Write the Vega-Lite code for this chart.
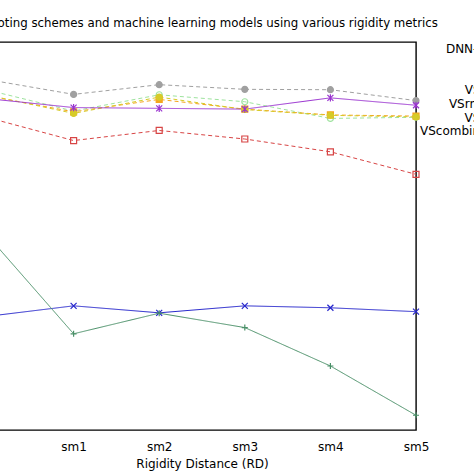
{
  "$schema": "https://vega.github.io/schema/vega-lite/v6.json",
  "width": 428,
  "height": 388,
  "autosize": {"type": "none"},
  "padding": {"left": -12, "top": 42, "right": 58, "bottom": 44},
  "title": {
    "text": "Comparison of voting schemes and machine learning models using various rigidity metrics",
    "anchor": "end",
    "frame": "group",
    "dx": 22,
    "offset": 12,
    "fontSize": 11.8,
    "fontWeight": "normal",
    "font": "DejaVu Sans",
    "color": "black"
  },
  "config": {
    "view": {"stroke": "black", "strokeWidth": 1.4},
    "font": "DejaVu Sans"
  },
  "data": {
    "values": [
      {"rd": "sm0", "series": "DNN-RD", "value": 0.903},
      {"rd": "sm1", "series": "DNN-RD", "value": 0.865},
      {"rd": "sm2", "series": "DNN-RD", "value": 0.890},
      {"rd": "sm3", "series": "DNN-RD", "value": 0.878},
      {"rd": "sm4", "series": "DNN-RD", "value": 0.877},
      {"rd": "sm5", "series": "DNN-RD", "value": 0.849},
      {"rd": "sm0", "series": "RF", "value": 0.876},
      {"rd": "sm1", "series": "RF", "value": 0.822},
      {"rd": "sm2", "series": "RF", "value": 0.864},
      {"rd": "sm3", "series": "RF", "value": 0.846},
      {"rd": "sm4", "series": "RF", "value": 0.803},
      {"rd": "sm5", "series": "RF", "value": 0.806},
      {"rd": "sm0", "series": "LR", "value": 0.861},
      {"rd": "sm1", "series": "LR", "value": 0.820},
      {"rd": "sm2", "series": "LR", "value": 0.852},
      {"rd": "sm3", "series": "LR", "value": 0.827},
      {"rd": "sm4", "series": "LR", "value": 0.812},
      {"rd": "sm5", "series": "LR", "value": 0.809},
      {"rd": "sm0", "series": "VSₘᵢₙ", "value": 0.863},
      {"rd": "sm1", "series": "VSₘᵢₙ", "value": 0.816},
      {"rd": "sm2", "series": "VSₘᵢₙ", "value": 0.858},
      {"rd": "sm3", "series": "VSₘᵢₙ", "value": 0.826},
      {"rd": "sm4", "series": "VSₘᵢₙ", "value": 0.811},
      {"rd": "sm5", "series": "VSₘᵢₙ", "value": 0.807},
      {"rd": "sm0", "series": "VSrmsd", "value": 0.854},
      {"rd": "sm1", "series": "VSrmsd", "value": 0.831},
      {"rd": "sm2", "series": "VSrmsd", "value": 0.829},
      {"rd": "sm3", "series": "VSrmsd", "value": 0.827},
      {"rd": "sm4", "series": "VSrmsd", "value": 0.856},
      {"rd": "sm5", "series": "VSrmsd", "value": 0.837},
      {"rd": "sm0", "series": "VSₐᵥₑ", "value": 0.293},
      {"rd": "sm1", "series": "VSₐᵥₑ", "value": 0.320},
      {"rd": "sm2", "series": "VSₐᵥₑ", "value": 0.302},
      {"rd": "sm3", "series": "VSₐᵥₑ", "value": 0.320},
      {"rd": "sm4", "series": "VSₐᵥₑ", "value": 0.315},
      {"rd": "sm5", "series": "VSₐᵥₑ", "value": 0.305},
      {"rd": "sm0", "series": "VScombined", "value": 0.805},
      {"rd": "sm1", "series": "VScombined", "value": 0.746},
      {"rd": "sm2", "series": "VScombined", "value": 0.772},
      {"rd": "sm3", "series": "VScombined", "value": 0.750},
      {"rd": "sm4", "series": "VScombined", "value": 0.717},
      {"rd": "sm5", "series": "VScombined", "value": 0.659},
      {"rd": "sm0", "series": "MV", "value": 0.500},
      {"rd": "sm1", "series": "MV", "value": 0.248},
      {"rd": "sm2", "series": "MV", "value": 0.301},
      {"rd": "sm3", "series": "MV", "value": 0.264},
      {"rd": "sm4", "series": "MV", "value": 0.165},
      {"rd": "sm5", "series": "MV", "value": 0.038}
    ]
  },
  "encoding": {
    "x": {
      "field": "rd",
      "type": "ordinal",
      "sort": ["sm0", "sm1", "sm2", "sm3", "sm4", "sm5"],
      "scale": {"type": "point", "padding": 0},
      "axis": {
        "values": ["sm1", "sm2", "sm3", "sm4", "sm5"],
        "labelAngle": 0,
        "ticks": false,
        "domain": false,
        "grid": false,
        "labelPadding": 11,
        "labelFontSize": 12,
        "labelColor": "black",
        "title": "Rigidity Distance (RD)",
        "titleFontSize": 12,
        "titleFontWeight": "normal",
        "titleColor": "black",
        "titlePadding": 6
      }
    },
    "y": {
      "field": "value",
      "type": "quantitative",
      "scale": {"domain": [0, 1], "nice": false, "zero": false},
      "axis": null
    }
  },
  "layer": [
    {
      "mark": {"type": "line", "strokeWidth": 1},
      "encoding": {
        "color": {
          "field": "series",
          "type": "nominal",
          "scale": {
            "domain": ["DNN-RD", "RF", "LR", "VSₘᵢₙ", "VSrmsd", "VSₐᵥₑ", "VScombined", "MV"],
            "range": ["#a0a0a0", "#9ee39e", "#f5a51e", "#d6cb28", "#9a33d0", "#2626cc", "#d84545", "#4a9068"]
          },
          "legend": {
            "orient": "none",
            "legendX": 491,
            "legendY": 1,
            "title": null,
            "labelAlign": "right",
            "symbolOpacity": 0,
            "symbolSize": 0,
            "labelFontSize": 12,
            "labelColor": "black",
            "rowPadding": 1.7
          }
        },
        "strokeDash": {
          "field": "series",
          "type": "nominal",
          "scale": {
            "domain": ["DNN-RD", "RF", "LR", "VSₘᵢₙ", "VSrmsd", "VSₐᵥₑ", "VScombined", "MV"],
            "range": [[4, 3], [4, 3], [4, 3], [4, 3], [1, 0], [1, 0], [4, 3], [1, 0]]
          },
          "legend": null
        }
      }
    },
    {
      "mark": {"type": "point", "filled": false, "strokeWidth": 1.2, "opacity": 1},
      "encoding": {
        "color": {"field": "series", "type": "nominal", "legend": null},
        "shape": {
          "field": "series",
          "type": "nominal",
          "scale": {
            "domain": ["DNN-RD", "RF", "LR", "VSₘᵢₙ", "VSrmsd", "VSₐᵥₑ", "VScombined", "MV"],
            "range": ["circle", "circle", "square", "circle", "M-1,-1L1,1M-1,1L1,-1M0,-1.2L0,1.2", "M-1,-1L1,1M-1,1L1,-1", "square", "M-1,0L1,0M0,-1L0,1"]
          },
          "legend": null
        },
        "fill": {
          "field": "series",
          "type": "nominal",
          "scale": {
            "domain": ["DNN-RD", "RF", "LR", "VSₘᵢₙ", "VSrmsd", "VSₐᵥₑ", "VScombined", "MV"],
            "range": ["#a0a0a0", "transparent", "#f5a51e", "#d6cb28", "transparent", "transparent", "transparent", "transparent"]
          },
          "legend": null
        },
        "size": {
          "field": "series",
          "type": "nominal",
          "scale": {
            "domain": ["DNN-RD", "RF", "LR", "VSₘᵢₙ", "VSrmsd", "VSₐᵥₑ", "VScombined", "MV"],
            "range": [36, 36, 42, 42, 64, 64, 36, 49]
          },
          "legend": null
        }
      }
    }
  ]
}
